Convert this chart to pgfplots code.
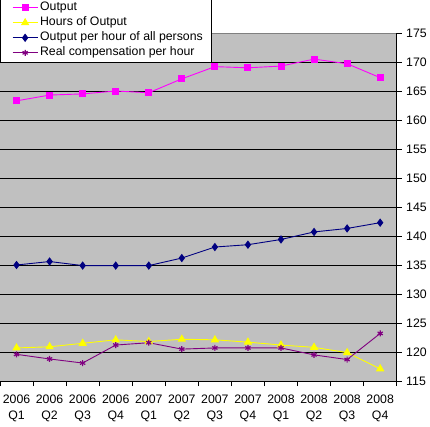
\documentclass[border=0pt]{standalone}
\usepackage{pgfplots}
\pgfplotsset{compat=1.18}
\usepackage{fontspec}
\setmainfont{Liberation Sans}
\definecolor{bg}{HTML}{C0C0C0}
\definecolor{cOut}{HTML}{FF00FF}
\definecolor{cHrs}{HTML}{FFFF00}
\definecolor{cOph}{HTML}{000080}
\definecolor{cRc}{HTML}{800080}
\definecolor{bord}{HTML}{808080}
\begin{document}
\begin{tikzpicture}
\useasboundingbox (0,0) rectangle (430pt,426pt);
\begin{axis}[
  at={(0pt,45pt)}, anchor=south west,
  scale only axis, width=396.7pt, height=348pt,
  xmin=-0.5, xmax=11.5, ymin=115, ymax=175,
  ytick={115,120,...,175},
  ymajorgrids, grid style={black, line width=0.9pt},
  yticklabel pos=right, ytick pos=right,
  xtick pos=bottom,
  tick align=outside, major tick length=5pt,
  tick style={black, line width=0.9pt},
  xtick={-0.5,0.5,...,11.5},
  x tick label as interval,
  xticklabels={{2006\\Q1},{2006\\Q2},{2006\\Q3},{2006\\Q4},{2007\\Q1},{2007\\Q2},{2007\\Q3},{2007\\Q4},{2008\\Q1},{2008\\Q2},{2008\\Q3},{2008\\Q4}},
  xticklabel style={align=center, font=\fontsize{12.3}{16}\selectfont, yshift=-5pt},
  yticklabel style={font=\fontsize{12.3}{14}\selectfont, xshift=1pt},
  /pgf/number format/assume math mode=true,
  axis line style={draw=none},
  axis background/.style={fill=bg},
  clip=false,
  legend style={at={(rel axis cs:0,0.9167)}, anchor=south west, draw=black, fill=white,
    font=\fontsize{12.3}{14}\selectfont, row sep=1pt, inner xsep=6pt, inner ysep=2pt,
    nodes={inner ysep=1pt, text height=9pt, text depth=3pt}},
  legend cell align=left,
  legend image code/.code={\path (0pt,0pt); \draw[mark repeat=2,mark phase=2,#1] plot coordinates {(6pt,0pt) (18.5pt,0pt) (31pt,0pt)};},
]
\addplot[cOut, line width=0.9pt, mark=square*, mark size=3pt, mark options={solid, fill=cOut}] coordinates {
(0,163.3) (1,164.3) (2,164.5) (3,165.0) (4,164.7) (5,167.1) (6,169.2) (7,169.0) (8,169.3) (9,170.5) (10,169.7) (11,167.3)};
\addlegendentry{Output}
\addplot[cHrs, line width=0.9pt, mark=triangle*, mark size=4pt, mark options={solid, fill=cHrs}] coordinates {
(0,120.7) (1,120.9) (2,121.5) (3,122.1) (4,121.8) (5,122.2) (6,122.1) (7,121.7) (8,121.2) (9,120.8) (10,119.9) (11,117.1)};
\addlegendentry{Hours of Output}
\addplot[cOph, line width=0.9pt, mark=diamond*, mark size=3.5pt, mark options={solid, fill=cOph}] coordinates {
(0,135.0) (1,135.6) (2,134.9) (3,134.9) (4,134.9) (5,136.2) (6,138.1) (7,138.5) (8,139.4) (9,140.7) (10,141.3) (11,142.3)};
\addlegendentry{Output per hour of all persons}
\addplot[cRc, line width=0.9pt, mark=asterisk, mark size=3pt, mark options={solid, line width=1.2pt}] coordinates {
(0,119.6) (1,118.8) (2,118.1) (3,121.2) (4,121.6) (5,120.5) (6,120.7) (7,120.7) (8,120.7) (9,119.5) (10,118.7) (11,123.2)};
\addlegendentry{Real compensation per hour}
\draw[bord, line width=0.9pt] (rel axis cs:0,1) -- (rel axis cs:1,1);
\draw[black, line width=0.9pt] (rel axis cs:0,0) -- (rel axis cs:1,0);
\draw[black, line width=0.9pt] (rel axis cs:1,0) -- (rel axis cs:1,1);
\end{axis}
\end{tikzpicture}
\end{document}
